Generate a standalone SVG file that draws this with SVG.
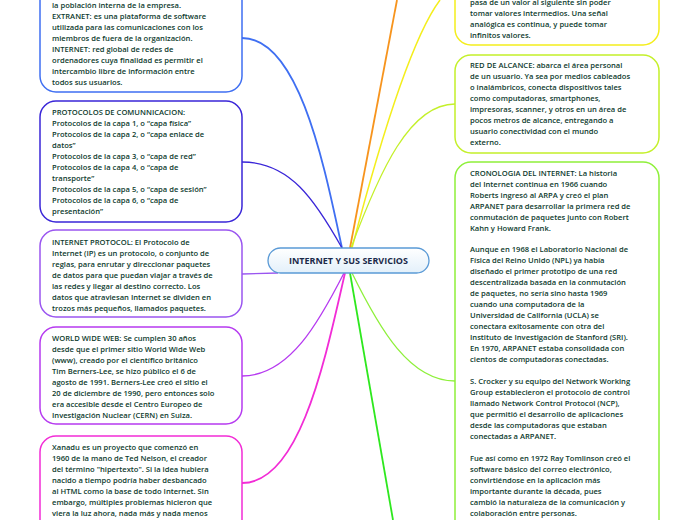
<svg xmlns="http://www.w3.org/2000/svg" width="696" height="520" viewBox="0 0 696 520">
<defs>
<linearGradient id="cg" x1="0" y1="0" x2="0" y2="1"><stop offset="0" stop-color="#ffffff"/><stop offset="1" stop-color="#e3f0fa"/></linearGradient>
</defs>
<style>
.b{fill:#fff;stroke-width:1.5}
.t{font-family:"Open Sans","Noto Sans",sans-serif;font-size:7.6px;font-weight:600;fill:#0e3b2e}
.c{fill:none}
</style>
<rect width="696" height="520" fill="#fff"/>
<g id="connectors">
<path class="c" d="M342,248 C325,170 300,38 242,38" stroke="#3f6ff2" stroke-width="1.8"/>
<path class="c" d="M342,248 C315,200 290,162 242,162" stroke="#3a26d8" stroke-width="1.3"/>
<path class="c" d="M278,273 L242,274" stroke="#9a55f0" stroke-width="1.3"/>
<path class="c" d="M344,273 C320,320 290,376 242,376" stroke="#b63af0" stroke-width="1.3"/>
<path class="c" d="M345,273 C325,360 300,483 242,483" stroke="#f22cd6" stroke-width="1.8"/>
<path class="c" d="M350,248 L397,0" stroke="#f7941d" stroke-width="1.8"/>
<path class="c" d="M352,248 C375,160 410,40 440,0" stroke="#f4ee1c" stroke-width="1.5"/>
<path class="c" d="M351,248 C380,170 410,104 455,104" stroke="#c4f02a" stroke-width="1.3"/>
<path class="c" d="M352,273 C380,330 410,381 455,381" stroke="#8ef03a" stroke-width="1.3"/>
<path class="c" d="M350,273 L393,520" stroke="#2ee81e" stroke-width="1.8"/>
</g>
<g id="center">
<rect x="268" y="248" width="161" height="25" rx="12.5" fill="url(#cg)" stroke="#5a9ad6" stroke-width="1.3"/>
<text x="348.5" y="264" text-anchor="middle" font-family="'Open Sans','Noto Sans',sans-serif" font-size="9px" font-weight="700" fill="#1b2a4a">INTERNET Y SUS SERVICIOS</text>
</g>
<g id="n1">
<rect class="b" x="40" y="-20" width="202" height="112" rx="16" stroke="#3f6ff2"/>
<text class="t"><tspan x="52" y="8">la población interna de la empresa.</tspan><tspan x="52" y="19">EXTRANET: es una plataforma de software</tspan><tspan x="52" y="30">utilizada para las comunicaciones con los</tspan><tspan x="52" y="41">miembros de fuera de la organización.</tspan><tspan x="52" y="52">INTERNET: red global de redes de</tspan><tspan x="52" y="63">ordenadores cuya finalidad es permitir el</tspan><tspan x="52" y="74">intercambio libre de información entre</tspan><tspan x="52" y="85">todos sus usuarios.</tspan></text>
</g>
<g id="n2">
<rect class="b" x="40" y="101" width="202" height="121" rx="16" stroke="#3a26d8"/>
<text class="t"><tspan x="52" y="115">PROTOCOLOS DE COMUNNICACION:</tspan><tspan x="52" y="126">Protocolos de la capa 1, o “capa física”</tspan><tspan x="52" y="137">Protocolos de la capa 2, o “capa enlace de</tspan><tspan x="52" y="148">datos”</tspan><tspan x="52" y="159">Protocolos de la capa 3, o “capa de red”</tspan><tspan x="52" y="170">Protocolos de la capa 4, o “capa de</tspan><tspan x="52" y="181">transporte”</tspan><tspan x="52" y="192">Protocolos de la capa 5, o “capa de sesión”</tspan><tspan x="52" y="203">Protocolos de la capa 6, o “capa de</tspan><tspan x="52" y="214">presentación”</tspan></text>
</g>
<g id="n3">
<rect class="b" x="40" y="230" width="202" height="87" rx="16" stroke="#9a55f0"/>
<text class="t"><tspan x="52" y="245">INTERNET PROTOCOL: El Protocolo de</tspan><tspan x="52" y="256">Internet (IP) es un protocolo, o conjunto de</tspan><tspan x="52" y="267">reglas, para enrutar y direccionar paquetes</tspan><tspan x="52" y="278">de datos para que puedan viajar a través de</tspan><tspan x="52" y="289">las redes y llegar al destino correcto. Los</tspan><tspan x="52" y="300">datos que atraviesan Internet se dividen en</tspan><tspan x="52" y="311">trozos más pequeños, llamados paquetes.</tspan></text>
</g>
<g id="n4">
<rect class="b" x="40" y="327" width="202" height="97" rx="16" stroke="#b63af0"/>
<text class="t"><tspan x="52" y="341">WORLD WIDE WEB: Se cumplen 30 años</tspan><tspan x="52" y="352">desde que el primer sitio World Wide Web</tspan><tspan x="52" y="363">(www), creado por el científico británico</tspan><tspan x="52" y="374">Tim Berners-Lee, se hizo público el 6 de</tspan><tspan x="52" y="385">agosto de 1991. Berners-Lee creó el sitio el</tspan><tspan x="52" y="396">20 de diciembre de 1990, pero entonces solo</tspan><tspan x="52" y="407">era accesible desde el Centro Europeo de</tspan><tspan x="52" y="418">Investigación Nuclear (CERN) en Suiza.</tspan></text>
</g>
<g id="n5">
<rect class="b" x="40" y="436" width="202" height="110" rx="16" stroke="#f22cd6"/>
<text class="t"><tspan x="52" y="450">Xanadu es un proyecto que comenzó en</tspan><tspan x="52" y="461">1960 de la mano de Ted Nelson, el creador</tspan><tspan x="52" y="472">del término "hipertexto". Si la idea hubiera</tspan><tspan x="52" y="483">nacido a tiempo podría haber desbancado</tspan><tspan x="52" y="494">al HTML como la base de todo Internet. Sin</tspan><tspan x="52" y="505">embargo, múltiples problemas hicieron que</tspan><tspan x="52" y="516">viera la luz ahora, nada más y nada menos</tspan></text>
</g>
<g id="r1">
<rect class="b" x="455" y="-30" width="204" height="75" rx="16" stroke="#f4ee1c"/>
<text class="t"><tspan x="470" y="5">pasa de un valor al siguiente sin poder</tspan><tspan x="470" y="16">tomar valores intermedios. Una señal</tspan><tspan x="470" y="27">analógica es continua, y puede tomar</tspan><tspan x="470" y="38">infinitos valores.</tspan></text>
</g>
<g id="r2">
<rect class="b" x="455" y="55" width="204" height="98" rx="16" stroke="#c4f02a"/>
<text class="t"><tspan x="470" y="68">RED DE ALCANCE: abarca el área personal</tspan><tspan x="470" y="79">de un usuario. Ya sea por medios cableados</tspan><tspan x="470" y="90">o inalámbricos, conecta dispositivos tales</tspan><tspan x="470" y="101">como computadoras, smartphones,</tspan><tspan x="470" y="112">impresoras, scanner, y otros en un área de</tspan><tspan x="470" y="123">pocos metros de alcance, entregando a</tspan><tspan x="470" y="134">usuario conectividad con el mundo</tspan><tspan x="470" y="145">externo.</tspan></text>
</g>
<g id="r3">
<rect class="b" x="455" y="162" width="204" height="390" rx="16" stroke="#8ef03a"/>
<text class="t"><tspan x="470" y="176">CRONOLOGIA DEL INTERNET: La historia</tspan><tspan x="470" y="187">del Internet continua en 1966 cuando</tspan><tspan x="470" y="198">Roberts ingresó al ARPA y creó el plan</tspan><tspan x="470" y="209">ARPANET para desarrollar la primera red de</tspan><tspan x="470" y="220">conmutación de paquetes junto con Robert</tspan><tspan x="470" y="231">Kahn y Howard Frank.</tspan><tspan x="470" y="252">Aunque en 1968 el Laboratorio Nacional de</tspan><tspan x="470" y="263">Física del Reino Unido (NPL) ya había</tspan><tspan x="470" y="274">diseñado el primer prototipo de una red</tspan><tspan x="470" y="285">descentralizada basada en la conmutación</tspan><tspan x="470" y="296">de paquetes, no sería sino hasta 1969</tspan><tspan x="470" y="307">cuando una computadora de la</tspan><tspan x="470" y="318">Universidad de California (UCLA) se</tspan><tspan x="470" y="329">conectara exitosamente con otra del</tspan><tspan x="470" y="340">Instituto de Investigación de Stanford (SRI).</tspan><tspan x="470" y="351">En 1970, ARPANET estaba consolidada con</tspan><tspan x="470" y="362">cientos de computadoras conectadas.</tspan><tspan x="470" y="384">S. Crocker y su equipo del Network Working</tspan><tspan x="470" y="395">Group establecieron el protocolo de control</tspan><tspan x="470" y="406">llamado Network Control Protocol (NCP),</tspan><tspan x="470" y="417">que permitió el desarrollo de aplicaciones</tspan><tspan x="470" y="428">desde las computadoras que estaban</tspan><tspan x="470" y="439">conectadas a ARPANET.</tspan><tspan x="470" y="461">Fue así como en 1972 Ray Tomlinson creó el</tspan><tspan x="470" y="472">software básico del correo electrónico,</tspan><tspan x="470" y="483">convirtiéndose en la aplicación más</tspan><tspan x="470" y="494">importante durante la década, pues</tspan><tspan x="470" y="505">cambió la naturaleza de la comunicación y</tspan><tspan x="470" y="516">colaboración entre personas.</tspan></text>
</g>
</svg>
